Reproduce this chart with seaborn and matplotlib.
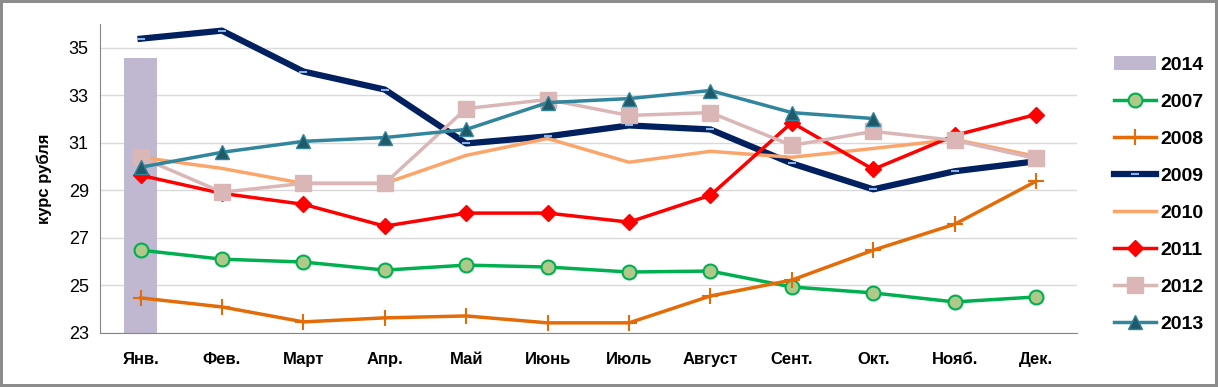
import numpy as np
import pandas as pd
import matplotlib.pyplot as plt
import seaborn as sns

# Данные (курс рубля по месяцам)
months = ['Янв.', 'Фев.', 'Март', 'Апр.', 'Май', 'Июнь', 'Июль', 'Август', 'Сент.', 'Окт.', 'Нояб.', 'Дек.']
y2014 = [34.58] + [np.nan] * 11
y2007 = [26.48, 26.10, 25.98, 25.64, 25.85, 25.77, 25.56, 25.60, 24.93, 24.68, 24.30, 24.51]
y2008 = [24.47, 24.09, 23.46, 23.63, 23.71, 23.42, 23.42, 24.55, 25.22, 26.48, 27.57, 29.38]
y2009 = [35.38, 35.72, 34.00, 33.24, 30.97, 31.27, 31.73, 31.56, 30.13, 29.04, 29.80, 30.22]
y2010 = [30.39, 29.92, 29.29, 29.29, 30.47, 31.18, 30.18, 30.64, 30.39, 30.76, 31.14, 30.43]
y2011 = [29.63, 28.87, 28.41, 27.49, 28.04, 28.04, 27.66, 28.79, 31.85, 29.88, 31.31, 32.19]
y2012 = [30.39, 28.92, 29.29, 29.29, 32.44, 32.82, 32.15, 32.27, 30.89, 31.48, 31.10, 30.34]
y2013 = [29.97, 30.60, 31.06, 31.22, 31.56, 32.69, 32.86, 33.20, 32.27, 32.02, np.nan, np.nan]

plt.rcParams['font.family'] = ['Liberation Sans', 'DejaVu Sans']

fig = plt.figure(figsize=(12.18, 3.87), dpi=100, edgecolor='#8c8c8c', linewidth=3)
ax = fig.add_axes([0.082, 0.14, 0.802, 0.798])

# 2014 - столбец
sns.barplot(x=months, y=y2014, order=months, color='#c0b8d0', width=0.4,
            saturation=1, label='2014', ax=ax)
if ax.get_legend() is not None:
    ax.get_legend().remove()

x = np.arange(len(months))
series = [
    ('2007', y2007, dict(color='#00b050', lw=2.5, marker='o', ms=10, mfc='#aec98a', mec='#00b050', mew=1.5)),
    ('2008', y2008, dict(color='#e36c09', lw=2.5, marker='+', ms=12, mew=1.5)),
    ('2009', y2009, dict(color='#002060', lw=4.5, marker='_', ms=6, mec='#8db4e2', mew=1.5)),
    ('2010', y2010, dict(color='#fba56b', lw=2.5, marker=None)),
    ('2011', y2011, dict(color='#ff0000', lw=2.5, marker='D', ms=8, mfc='#ff0000', mec='#ff0000')),
    ('2012', y2012, dict(color='#dab6b6', lw=2.5, marker='s', ms=11, mfc='#dab6b6', mec='#dab6b6')),
    ('2013', y2013, dict(color='#31859c', lw=2.5, marker='^', ms=10, mfc='#215968', mec='#31859c')),
]
for name, vals, kw in series:
    ax.plot(x, vals, label=name, zorder=3, **kw)

ax.set_xlim(-0.5, 11.5)
ax.set_ylim(23, 36)
ax.set_yticks(range(23, 36, 2))
ax.yaxis.grid(True, color='#d9d9d9', lw=1)
ax.set_axisbelow(True)
for s in ['top', 'right']:
    ax.spines[s].set_visible(False)
ax.spines['left'].set_color('#868686')
ax.spines['bottom'].set_color('#868686')
ax.tick_params(length=0, pad=8)
ax.tick_params(axis='y', labelsize=13)
ax.tick_params(axis='x', labelsize=12, pad=14)
for lbl in ax.get_xticklabels():
    lbl.set_fontweight('bold')
ax.set_ylabel('курс рубля', fontsize=12, fontweight='bold', labelpad=12)
ax.set_xlabel('')

handles, labels = ax.get_legend_handles_labels()
order = [labels.index('2014')] + [i for i, l in enumerate(labels) if l != '2014']
fig.legend([handles[i] for i in order], [labels[i] for i in order],
           loc='upper left', bbox_to_anchor=(0.9, 0.9), frameon=False,
           prop={'size': 14, 'weight': 'bold'}, labelspacing=1.0,
           handlelength=2.2, handletextpad=0.2)

fig.savefig('out.png', dpi=100)
